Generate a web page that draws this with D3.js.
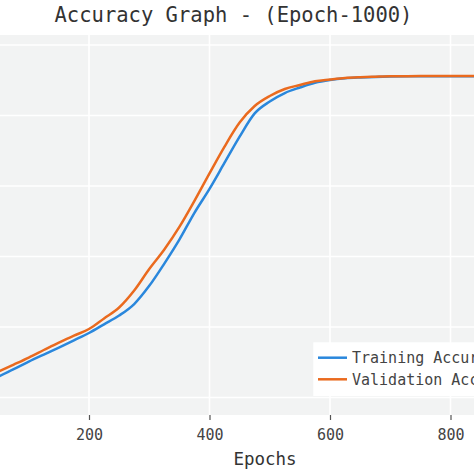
<!DOCTYPE html>
<html>
<head>
<meta charset="utf-8">
<script src="https://cdn.jsdelivr.net/npm/d3@7"></script>
<style>
  html, body { margin: 0; padding: 0; background: #ffffff; overflow: hidden; }
  text { font-family: "DejaVu Sans Mono", "Liberation Mono", monospace; }
</style>
</head>
<body>
<div id="chartArea"><svg id="chart"></svg></div>
<script>
const epochs = [50, 75, 100, 125, 150, 175, 200, 225, 250, 275, 300, 325, 350, 375, 400, 425, 450, 475, 500,
                525, 550, 575, 600, 625, 650, 675, 700, 750, 800, 850, 900, 950, 1000]
const trainAcc = [0.4298, 0.4401, 0.4509, 0.4610, 0.4709, 0.4811, 0.4915, 0.5038, 0.5163, 0.5326, 0.5584,
                  0.5900, 0.6240, 0.6620, 0.6960, 0.7330, 0.7700, 0.8030, 0.8199, 0.8319, 0.8397, 0.8465,
                  0.8504, 0.8528, 0.8540, 0.8548, 0.8553, 0.8557, 0.8558, 0.8558, 0.8558, 0.8558, 0.8558]
const valAcc = [0.4369, 0.4467, 0.4567, 0.4674, 0.4780, 0.4877, 0.4972, 0.5122, 0.5277, 0.5518, 0.5823,
                0.6100, 0.6420, 0.6790, 0.7180, 0.7560, 0.7900, 0.8135, 0.8277, 0.8376, 0.8433, 0.8487,
                0.8511, 0.8532, 0.8543, 0.8550, 0.8556, 0.8559, 0.8561, 0.8562, 0.8562, 0.8562, 0.8562]
const xTicks = [200, 400, 600, 800]
const seriesNames = ['Training Accuracy', 'Validation Accuracy']

const W = 474, H = 474
const plot = { left: -31.5, right: 571, top: 35, bottom: 415 }
const colors = ['#2a87dc', '#ea6a1e']

const svg = d3.select('#chart')
    .attr('width', W)
    .attr('height', H)

const x = d3.scaleLinear().domain([0, 1000]).range([plot.left, plot.right])
const y = d3.scaleLinear().domain([0.3752, 0.9142]).range([plot.bottom, plot.top])

// plot background
svg.append('rect')
    .attr('x', plot.left)
    .attr('y', plot.top)
    .attr('width', plot.right - plot.left)
    .attr('height', plot.bottom - plot.top)
    .attr('fill', '#f2f3f3')

// grid
svg.append('g')
    .selectAll('line')
    .data(y.ticks(5))
    .join('line')
        .attr('x1', plot.left)
        .attr('x2', plot.right)
        .attr('y1', d => y(d))
        .attr('y2', d => y(d))
        .attr('stroke', '#ffffff')
        .attr('stroke-width', 1.6)

svg.append('g')
    .selectAll('line')
    .data(xTicks)
    .join('line')
        .attr('x1', d => x(d))
        .attr('x2', d => x(d))
        .attr('y1', plot.top)
        .attr('y2', plot.bottom)
        .attr('stroke', '#ffffff')
        .attr('stroke-width', 1.6)

// x axis
const xAxis = svg.append('g')
    .attr('transform', `translate(0,${plot.bottom})`)
    .call(d3.axisBottom(x).tickValues(xTicks).tickSize(5).tickPadding(9))
xAxis.select('.domain').remove()
xAxis.selectAll('.tick line').attr('stroke', '#555').attr('stroke-width', 1.2)
xAxis.selectAll('.tick text')
    .attr('fill', '#444')
    .style('font-size', '15px')
    .style('font-family', '"DejaVu Sans Mono", monospace')

svg.append('text')
    .attr('x', 265)
    .attr('y', 465)
    .attr('text-anchor', 'middle')
    .attr('fill', '#333')
    .style('font-size', '17.5px')
    .text('Epochs')

svg.append('text')
    .attr('x', 233.5)
    .attr('y', 21.7)
    .attr('text-anchor', 'middle')
    .attr('fill', '#333')
    .style('font-size', '20.5px')
    .text('Accuracy Graph - (Epoch-1000)')

// lines
const line = d3.line()
    .x((d, i) => x(epochs[i]))
    .y(d => y(d))
    .curve(d3.curveMonotoneX)

svg.append('defs').append('clipPath').attr('id', 'clip')
    .append('rect')
    .attr('x', plot.left).attr('y', plot.top)
    .attr('width', plot.right - plot.left).attr('height', plot.bottom - plot.top)

svg.append('g')
    .attr('clip-path', 'url(#clip)')
    .selectAll('path')
    .data([trainAcc, valAcc])
    .join('path')
        .attr('d', line)
        .attr('fill', 'none')
        .attr('stroke', (d, i) => colors[i])
        .attr('stroke-width', 2.5)

// legend
const legend = svg.append('g')
legend.append('rect')
    .attr('x', 313.3)
    .attr('y', 342.3)
    .attr('width', 220)
    .attr('height', 53.7)
    .attr('fill', '#ffffff')

const items = legend.selectAll('g')
    .data(seriesNames)
    .join('g')
        .attr('transform', (d, i) => `translate(0,${357.7 + i * 21.6})`)
items.append('line')
    .attr('x1', 318)
    .attr('x2', 347)
    .attr('stroke', (d, i) => colors[i])
    .attr('stroke-width', 2.5)
items.append('text')
    .attr('x', 352)
    .attr('y', 5.5)
    .attr('fill', '#444')
    .style('font-size', '15px')
    .text(d => d)
</script>
</body>
</html>
